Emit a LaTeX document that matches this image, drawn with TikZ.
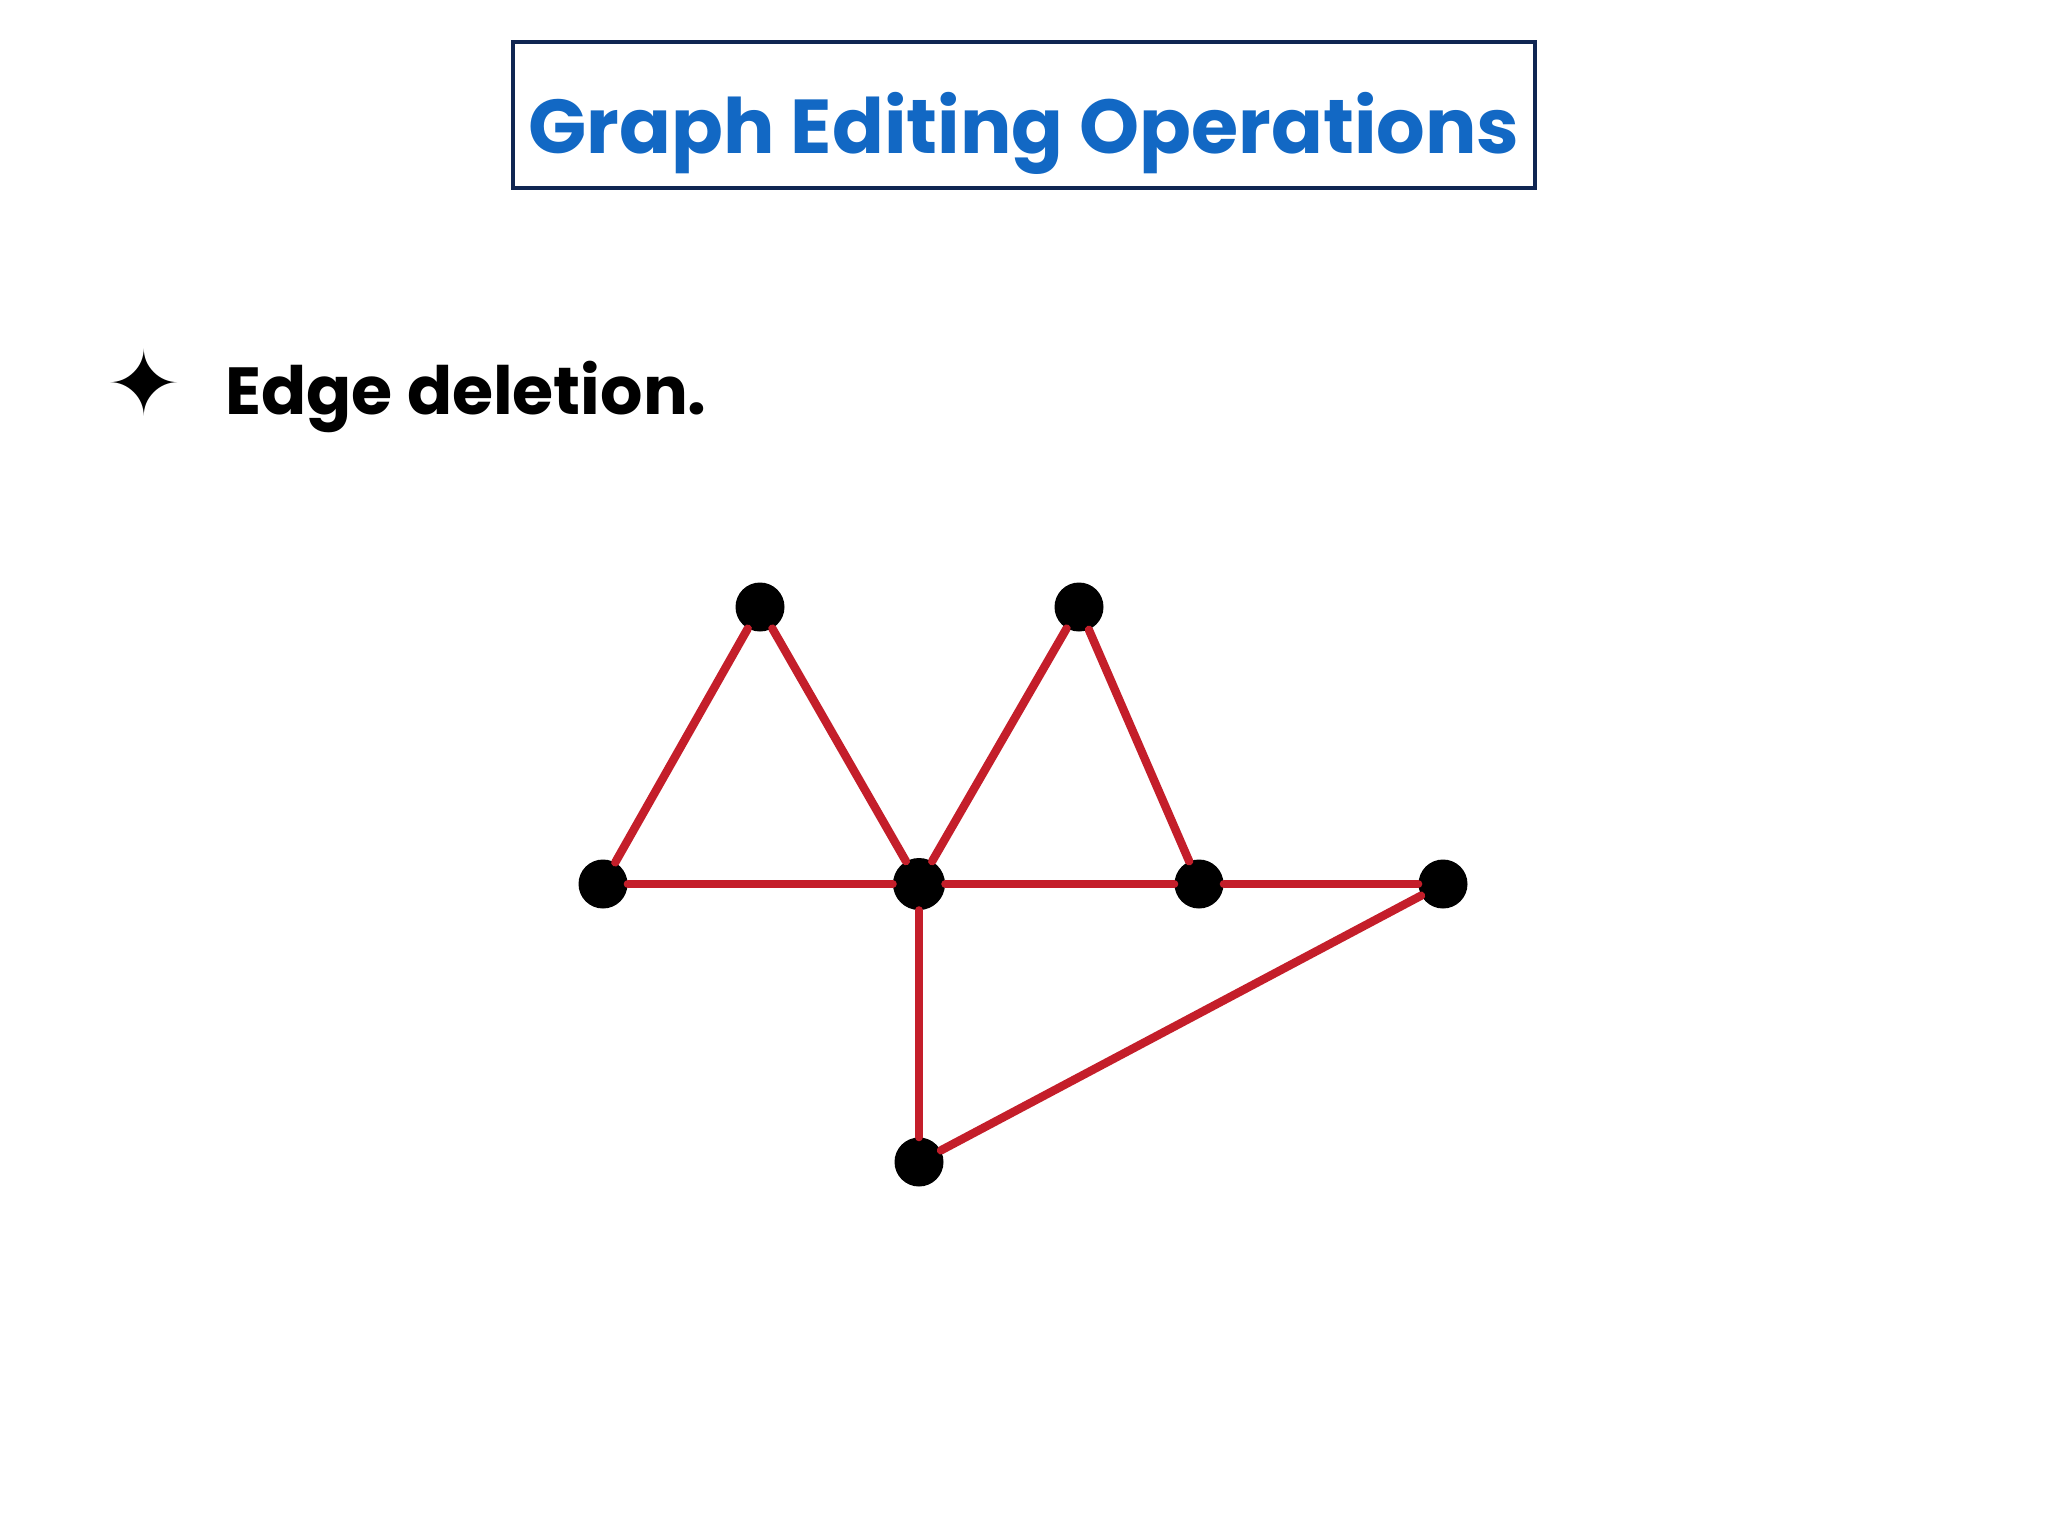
\documentclass[tikz,border=0pt]{standalone}
\usepackage{fontspec}
\setmainfont{Poppins}[BoldFont={Poppins Bold}]
\newfontfamily\symfont{DejaVu Sans}
\usepackage{tikz}
\definecolor{titleblue}{RGB}{18,104,196}
\definecolor{boxnavy}{RGB}{16,38,82}
\definecolor{edgered}{RGB}{196,30,42}
\tikzstyle{vertex}=[circle, fill=black, inner sep=0pt, minimum size=24.5pt]
\tikzstyle{link}=[draw=edgered, line width=4.2pt, line cap=round]
\newcommand{\vertex}{\node[vertex]}

\begin{document}
\begin{tikzpicture}[x=0.5pt,y=-0.5pt]
            \useasboundingbox (0,0) rectangle (2048,1536);
            \node[draw=boxnavy, line width=2pt, minimum width=511pt, minimum height=73pt, inner sep=0pt,
                text height=45pt, text depth=6pt]
                (title) at (1024,115) {\fontsize{38.2}{45}\selectfont\bfseries\color{titleblue}Graph Editing Operations};
            \node (star) at (144,383) {\fontsize{45}{54}\selectfont\symfont ✦};
            \node[anchor=base west, inner sep=0pt] (item) at (225,414) {\fontsize{33.3}{40}\selectfont\bfseries Edge deletion.};

            \vertex (a) at (760,607) {};
            \vertex (b) at (1079,607) {};
            \vertex (c) at (603,884) {};
            \vertex[minimum size=26pt] (d) at (919,884) {};
            \vertex (e) at (1199,884) {};
            \vertex (f) at (1443,884) {};
            \vertex (g) at (919,1162) {};

            \path[link]
            (c) edge (a)
            (a) edge (d)
            (d) edge (b)
            (b) edge (e)
            (c) edge (d)
            (d) edge (e)
            (e) edge (f)
            (d) edge (g)
            (g) edge (f)
            ;
        \end{tikzpicture}
\end{document}
